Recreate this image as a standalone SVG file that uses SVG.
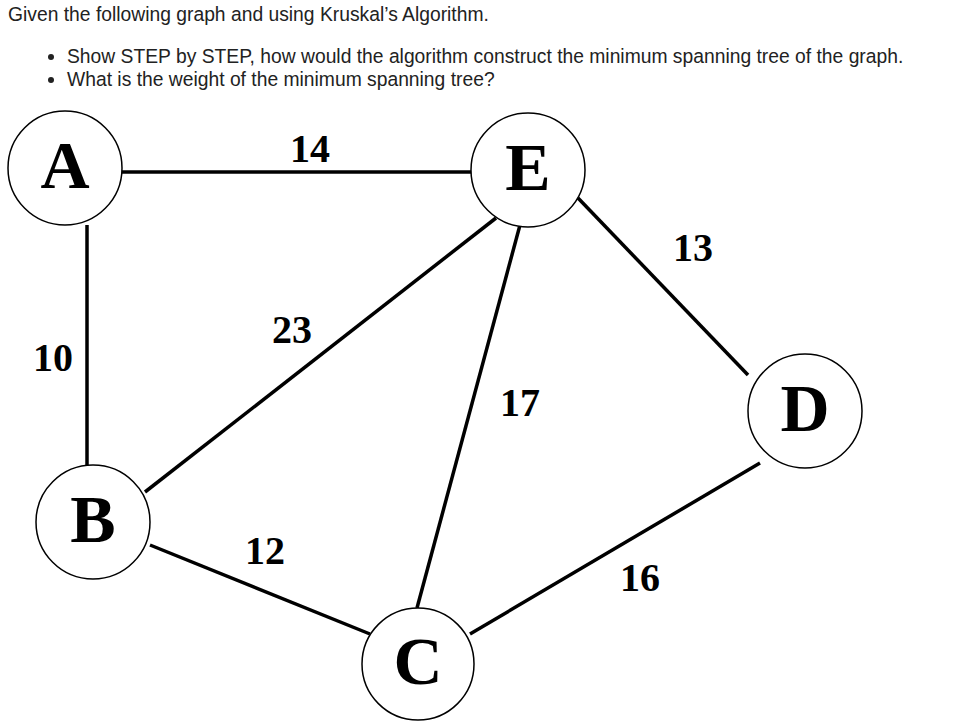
<svg xmlns="http://www.w3.org/2000/svg" width="972" height="726" viewBox="0 0 972 726">
<style>
.h{font-family:"Liberation Sans",Arial,sans-serif;font-size:19.3px;fill:#222}
.n{fill:#fff;stroke:#000;stroke-width:1.5}
.l{font-family:"Liberation Serif","Times New Roman",serif;font-weight:bold;font-size:40px;text-anchor:middle;fill:#000}
.t{font-family:"Liberation Serif","Times New Roman",serif;font-weight:bold;font-size:68px;text-anchor:middle;dominant-baseline:central;fill:#000}
.e{stroke:#000;stroke-width:3.5;fill:none}
</style>
<rect width="972" height="726" fill="#fff"/>
<text class="h" x="8" y="21">Given the following graph and using Kruskal’s Algorithm.</text>
<circle cx="51" cy="57" r="3" fill="#222"/>
<text class="h" x="67" y="63">Show STEP by STEP, how would the algorithm construct the minimum spanning tree of the graph.</text>
<circle cx="51" cy="80" r="3" fill="#222"/>
<text class="h" x="67" y="86">What is the weight of the minimum spanning tree?</text>
<g id="edges">
<line class="e" x1="122" y1="172" x2="471" y2="172"/>
<line class="e" x1="87" y1="225" x2="87" y2="468"/>
<line class="e" x1="496" y1="218" x2="145" y2="492"/>
<line class="e" x1="520" y1="225" x2="417" y2="608"/>
<line class="e" x1="578" y1="198" x2="748" y2="375"/>
<line class="e" x1="150" y1="545" x2="370" y2="634"/>
<line class="e" x1="470" y1="634" x2="760" y2="463"/>
<text class="l" x="310" y="162">14</text>
<text class="l" x="693" y="261">13</text>
<text class="l" x="292" y="343">23</text>
<text class="l" x="53" y="371">10</text>
<text class="l" x="520" y="416">17</text>
<text class="l" x="265" y="564">12</text>
<text class="l" x="640" y="591">16</text>
</g>
<g id="A"><circle class="n" cx="65" cy="168" r="57"/><text class="t" x="65" y="165">A</text></g>
<g id="E"><circle class="n" cx="528" cy="170" r="57"/><text class="t" x="528" y="167">E</text></g>
<g id="B"><circle class="n" cx="93" cy="522" r="57"/><text class="t" x="93" y="519">B</text></g>
<g id="D"><circle class="n" cx="805" cy="411" r="57"/><text class="t" x="805" y="408">D</text></g>
<g id="C"><circle class="n" cx="418" cy="664" r="56"/><text class="t" x="418" y="661">C</text></g>
</svg>
